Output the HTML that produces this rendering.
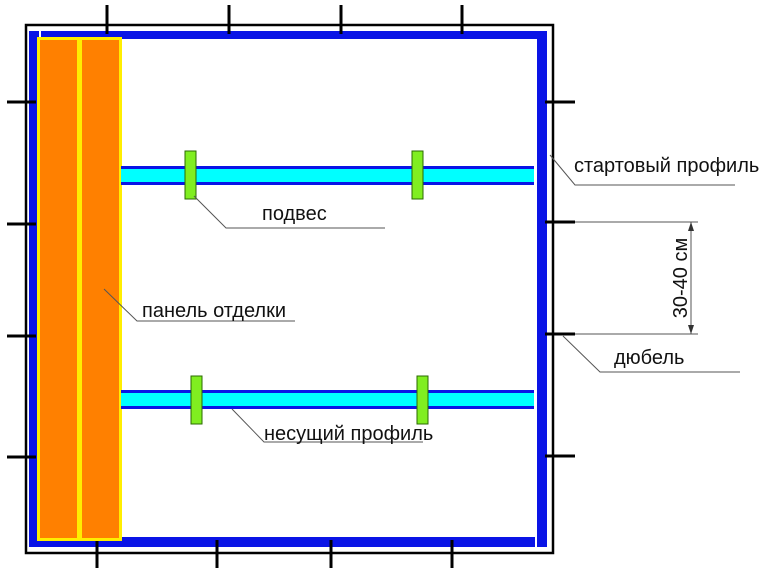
<!DOCTYPE html>
<html><head><meta charset="utf-8"><style>
html,body{margin:0;padding:0;background:#fff;}
svg{display:block}
text{font-family:"Liberation Sans",sans-serif;font-size:20px;fill:#111}
</style></head><body>
<svg width="768" height="575" viewBox="0 0 768 575" xmlns="http://www.w3.org/2000/svg">
<rect x="26" y="25" width="527" height="528" fill="none" stroke="#000" stroke-width="2.5"/>
<rect x="29" y="31" width="10" height="516" fill="#0a14e6"/>
<rect x="41" y="31" width="496" height="8" fill="#0a14e6"/>
<rect x="537" y="31" width="10" height="516" fill="#0a14e6"/>
<rect x="39" y="537" width="496" height="10" fill="#0a14e6"/>
<g stroke="#000" stroke-width="3">
<line x1="107" y1="5" x2="107" y2="34"/><line x1="229" y1="5" x2="229" y2="34"/><line x1="341" y1="5" x2="341" y2="34"/><line x1="462" y1="5" x2="462" y2="34"/>
<line x1="7" y1="102" x2="36" y2="102"/><line x1="7" y1="224" x2="36" y2="224"/><line x1="7" y1="336" x2="36" y2="336"/><line x1="7" y1="457" x2="36" y2="457"/>
<line x1="545" y1="102" x2="575" y2="102"/><line x1="545" y1="222" x2="575" y2="222"/><line x1="545" y1="334" x2="575" y2="334"/><line x1="545" y1="456" x2="575" y2="456"/>
<line x1="97" y1="540" x2="97" y2="568"/><line x1="217" y1="540" x2="217" y2="568"/><line x1="331" y1="540" x2="331" y2="568"/><line x1="452" y1="540" x2="452" y2="568"/>
</g>
<rect x="37" y="37" width="85" height="504" fill="#ffee00"/>
<rect x="40" y="40" width="37" height="498" fill="#ff8000"/>
<rect x="82" y="40" width="37" height="498" fill="#ff8000"/>
<rect x="121" y="166" width="413" height="19" fill="#0a14e6"/>
<rect x="121" y="169" width="413" height="13" fill="#00ffff"/>
<rect x="121" y="390" width="413" height="19" fill="#0a14e6"/>
<rect x="121" y="393" width="413" height="13" fill="#00ffff"/>
<g fill="#80ee20" stroke="#2a6a00" stroke-width="1">
<rect x="185" y="151" width="11" height="48"/><rect x="412" y="151" width="11" height="48"/>
<rect x="191" y="376" width="11" height="48"/><rect x="417" y="376" width="11" height="48"/>
</g>
<g stroke="#555" stroke-width="1" fill="none">
<polyline points="194,196 226,228 385,228"/>
<polyline points="104,289 137,321 295,321"/>
<polyline points="232,409 264,442 423,442"/>
<polyline points="550,155 575,185 735,185"/>
<polyline points="563,336 600,372 740,372"/>
<line x1="575" y1="222" x2="698" y2="222"/>
<line x1="575" y1="334" x2="698" y2="334"/>
<line x1="691" y1="222" x2="691" y2="334"/>
</g>
<polygon points="691,222 688,231 694,231" fill="#333"/>
<polygon points="691,334 688,325 694,325" fill="#333"/>
<text x="262" y="220">подвес</text>
<text x="142" y="317">панель отделки</text>
<text x="264" y="440">несущий профиль</text>
<text x="574" y="172">стартовый профиль</text>
<text x="614" y="364">дюбель</text>
<text transform="translate(687,278) rotate(-90)" text-anchor="middle">30-40 см</text>
</svg>
</body></html>
